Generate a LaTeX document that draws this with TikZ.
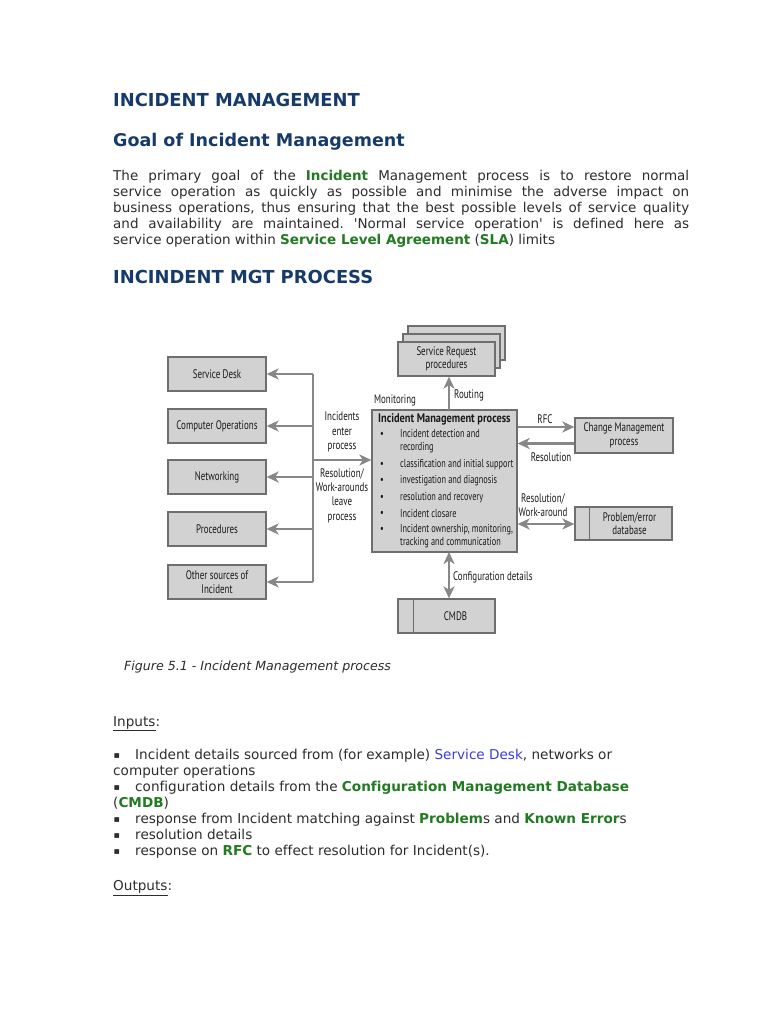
\documentclass[tikz,border=0pt]{standalone}
\usepackage{fontspec}
\setmainfont{DejaVu Sans}[Ligatures={TeXOff,NoCommon}]
\newfontfamily\dfont[FakeStretch=0.72]{PT Sans}
\newfontfamily\dfontw[FakeStretch=0.83]{PT Sans}
\usetikzlibrary{arrows.meta}
\definecolor{hblue}{RGB}{22,58,105}
\definecolor{tgreen}{RGB}{34,122,34}
\definecolor{lblue}{RGB}{60,60,220}
\definecolor{txt}{RGB}{45,45,45}
\definecolor{boxfill}{RGB}{210,210,210}
\definecolor{boxline}{RGB}{110,110,110}
\definecolor{arr}{RGB}{135,135,135}
\newcommand{\gb}[1]{\textcolor{tgreen}{\bfseries #1}}
\newcommand{\jl}[1]{\makebox[576pt][s]{#1}}
\newcommand{\sqb}{{\fontsize{9.5}{9.5}\selectfont ▪}}
\frenchspacing
\tikzset{
 heading/.style={anchor=base west, inner sep=0, text=hblue, font=\bfseries\fontsize{17.9}{21}\selectfont},
 para/.style={anchor=base west, inner sep=0, text=txt, font=\fontsize{13.5}{16}\selectfont\frenchspacing},
 blist/.style={anchor=base west, inner sep=0, text=txt, font=\fontsize{13.6}{16}\selectfont\frenchspacing},
 box/.style={draw=boxline, fill=boxfill, line width=1.3pt, inner sep=0, align=center, text=black!90, font=\dfont\fontsize{12.4}{13.5}\selectfont},
 lbl/.style={inner sep=0, align=center, text=black!90, font=\dfont\fontsize{12.4}{14.3}\selectfont},
 imtxt/.style={inner sep=0, anchor=west, align=left, text=black!90, font=\dfont\fontsize{11.5}{13}\selectfont},
 flow/.style={draw=arr, line width=2.8pt, -{Stealth[length=12pt,width=11pt,inset=3.5pt]}},
 bflow/.style={draw=arr, line width=2.8pt, {Stealth[length=12pt,width=11pt,inset=3.5pt]}-{Stealth[length=12pt,width=11pt,inset=3.5pt]}},
 trunk/.style={draw=arr, line width=2.8pt},
}
\begin{document}
\begin{tikzpicture}[x=1pt,y=-1pt]
\fill[white] (0,0) rectangle (768,1024);
\useasboundingbox (0,0) rectangle (768,1024);

% headings
\node[heading] (h1) at (113,107) {INCIDENT MANAGEMENT};
\node[heading, font=\bfseries\fontsize{17.5}{21}\selectfont] (h2) at (113,146.5) {Goal of Incident Management};
\node[para] (p1) at (113,180.5) {\jl{The primary goal of the \gb{Incident} Management process is to restore normal}};
\node[para] (p2) at (113,196.5) {\jl{service operation as quickly as possible and minimise the adverse impact on}};
\node[para] (p3) at (113,212.5) {\jl{business operations, thus ensuring that the best possible levels of service quality}};
\node[para] (p4) at (113,228.5) {\jl{and availability are maintained. 'Normal service operation' is defined here as}};
\node[para] (p5) at (113,244.5) {service operation within \gb{Service Level Agreement} (\gb{SLA}) limits};
\node[heading] (h3) at (113,283) {INCINDENT MGT PROCESS};

% left boxes
\node[box, minimum width=98pt, minimum height=34pt] (sd) at (217,374) {Service Desk};
\node[box, minimum width=98pt, minimum height=34pt] (co) at (217,426) {Computer Operations};
\node[box, minimum width=98pt, minimum height=34pt] (nw) at (217,477) {Networking};
\node[box, minimum width=98pt, minimum height=34pt] (pr) at (217,529) {Procedures};
\node[box, minimum width=98pt, minimum height=34pt] (os) at (217,582) {Other sources of\\Incident};

\coordinate (t1) at (313,374);
\coordinate (t2) at (313,426);
\coordinate (t3) at (313,477);
\coordinate (t4) at (313,529);
\coordinate (t5) at (313,582);
\coordinate (tin) at (313,460);
\draw[trunk] (t1) -- (t5);
\draw[flow] (t1) -- (sd.east);
\draw[flow] (t2) -- (co.east);
\draw[flow] (t3) -- (nw.east);
\draw[flow] (t4) -- (pr.east);
\draw[flow] (t5) -- (os.east);

\node[lbl] (lin) at (342,432) {Incidents\\enter\\process};
\node[lbl] (lout) at (342,495.5) {Resolution/\\Work-arounds\\leave\\process};

% service request stack
\node[box, minimum width=97pt, minimum height=34pt] (sr3) at (456.5,343) {};
\node[box, minimum width=97pt, minimum height=34pt] (sr2) at (451.5,351) {};
\node[box, minimum width=97pt, minimum height=34pt] (sr1) at (446.5,359) {Service Request\\procedures};

% incident management box
\node[box, minimum width=145pt, minimum height=142pt] (im) at (444.5,481) {};
\draw[flow] (tin) -- (im.west |- tin);
\node[imtxt, font=\dfontw\bfseries\fontsize{12.5}{13}\selectfont] (imt) at (378,419) {Incident Management process};
\node[imtxt] (b1) at (380,435) {\textbullet};
\node[imtxt] (i1) at (400,441.5) {Incident detection and\\recording};
\node[imtxt] (b2) at (380,465) {\textbullet};
\node[imtxt] (i2) at (400,465) {classification and initial support};
\node[imtxt] (b3) at (380,481) {\textbullet};
\node[imtxt] (i3) at (400,481) {investigation and diagnosis};
\node[imtxt] (b4) at (380,497.5) {\textbullet};
\node[imtxt] (i4) at (400,497.5) {resolution and recovery};
\node[imtxt] (b5) at (380,513.5) {\textbullet};
\node[imtxt] (i5) at (400,513.5) {Incident closare};
\node[imtxt] (b6) at (380,530) {\textbullet};
\node[imtxt] (i6) at (400,536.5) {Incident ownership, monitoring,\\tracking and communication};

\coordinate (rb) at (449,410);
\draw[flow] (rb) -- (rb |- sr1.south);
\node[lbl] (mon) at (395,400) {Monitoring};
\node[lbl] (rout) at (469,395) {Routing};

% change management
\node[box, minimum width=98pt, minimum height=35pt] (cm) at (624,435.5) {Change Management\\process};
\coordinate (rfc) at (517,427);
\coordinate (res) at (517,443.5);
\draw[flow] (im.east |- rfc) -- (cm.west |- rfc);
\draw[flow] (cm.west |- res) -- (im.east |- res);
\node[lbl] (lrfc) at (545,419) {RFC};
\node[lbl] (lres) at (551,457) {Resolution};

% problem/error database
\node[box, minimum width=97pt, minimum height=33pt] (pe) at (623.5,523.5) {\hspace*{12pt}Problem/error\\\hspace*{12pt}database};
\draw[draw=boxline, line width=1.3pt] ([xshift=15pt]pe.north west) -- ([xshift=15pt]pe.south west);
\coordinate (wa) at (517,524);
\draw[bflow] (im.east |- wa) -- (pe.west |- wa);
\node[lbl] (lwa) at (543,505) {Resolution/\\Work-around};

% CMDB
\node[box, minimum width=97pt, minimum height=34pt] (cmdb) at (446.5,616) {\hspace*{18pt}CMDB};
\draw[draw=boxline, line width=1.3pt] ([xshift=16pt]cmdb.north west) -- ([xshift=16pt]cmdb.south west);
\coordinate (cf) at (449,552);
\draw[bflow] (cf) -- (cf |- cmdb.north);
\node[lbl, anchor=west] (lcf) at (453,577) {Configuration details};

% caption
\node[anchor=base west, inner sep=0, text=txt, font=\itshape\fontsize{12.6}{14}\selectfont] (cap) at (124,670) {Figure 5.1 - Incident Management process};

% inputs
\node[blist] (inp) at (113,726) {\underline{Inputs}:};
\node[blist] (q1) at (113.5,758) {\sqb};
\node[blist] (l1) at (135,759.5) {Incident details sourced from (for example) \textcolor{lblue}{Service Desk}, networks or};
\node[blist] (l1b) at (113,775.5) {computer operations};
\node[blist] (q2) at (113.5,790) {\sqb};
\node[blist] (l2) at (135,791.5) {configuration details from the \gb{Configuration Management Database}};
\node[blist] (l2b) at (113,807.5) {(\gb{CMDB})};
\node[blist] (q3) at (113.5,822) {\sqb};
\node[blist] (l3) at (135,823.5) {response from Incident matching against \gb{Problem}s and \gb{Known Error}s};
\node[blist] (q4) at (113.5,838) {\sqb};
\node[blist] (l4) at (135,839.5) {resolution details};
\node[blist] (q5) at (113.5,854) {\sqb};
\node[blist] (l5) at (135,855.5) {response on \gb{RFC} to effect resolution for Incident(s).};
\node[blist] (outp) at (113,890.5) {\underline{Outputs}:};
\end{tikzpicture}
\end{document}
